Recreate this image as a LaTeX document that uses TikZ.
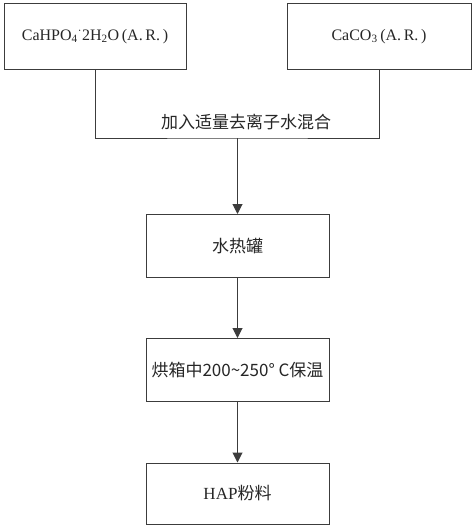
\documentclass[tikz,border=0pt]{standalone}
\usepackage{fontspec}
\setmainfont{Liberation Serif}
\newfontfamily\cjk{Noto Sans CJK SC}
\usetikzlibrary{arrows.meta, positioning}
\definecolor{linegray}{RGB}{60,60,60}

\begin{document}
\begin{tikzpicture}[x=1pt, y=1pt, >={Triangle[width=10pt,length=10pt]},
    stepbox/.style={draw=linegray, line width=1pt, minimum width=183pt, minimum height=63pt,
        inner sep=0pt, text=black!85, font=\fontsize{17}{20}\selectfont},
    flow/.style={draw=linegray, line width=1pt}]
    % Canvas
    \useasboundingbox (0,0) rectangle (474,-527);

    % Raw materials
    \node[stepbox, minimum width=182pt, minimum height=65pt, font=\fontsize{16}{19}\selectfont] (hpo) at (95,-36.5)
        {CaHPO\textsubscript{4}\textsuperscript{·}2H\textsubscript{2}O\,(A.\,R.\,)};
    \node[stepbox, minimum width=184pt, minimum height=65pt, font=\fontsize{16}{19}\selectfont] (caco) at (379,-36.5)
        {CaCO\textsubscript{3}\,(A.\,R.\,)};

    % Mixing
    \coordinate (mix) at (237.5,-138);
    \draw[flow] (hpo.south) |- (mix) -| (caco.south);
    \node[font=\cjk\fontsize{17}{20}\selectfont, text=black!85] (mixtext) at (246,-122) {加入适量去离子水混合};

    % Process steps
    \node[stepbox] (kettle) at (237.5,-246) {\cjk 水热罐};
    \node[stepbox] (oven) at (237.5,-370) {\cjk 烘箱中200\textasciitilde250° C保温};
    \node[stepbox, minimum height=61pt] (hap) at (237.5,-493.5) {HAP{\cjk 粉料}};

    % Arrows
    \draw[flow, ->] (mix) -- (kettle);
    \draw[flow, ->] (kettle) -- (oven);
    \draw[flow, ->] (oven) -- (hap);
\end{tikzpicture}
\end{document}
